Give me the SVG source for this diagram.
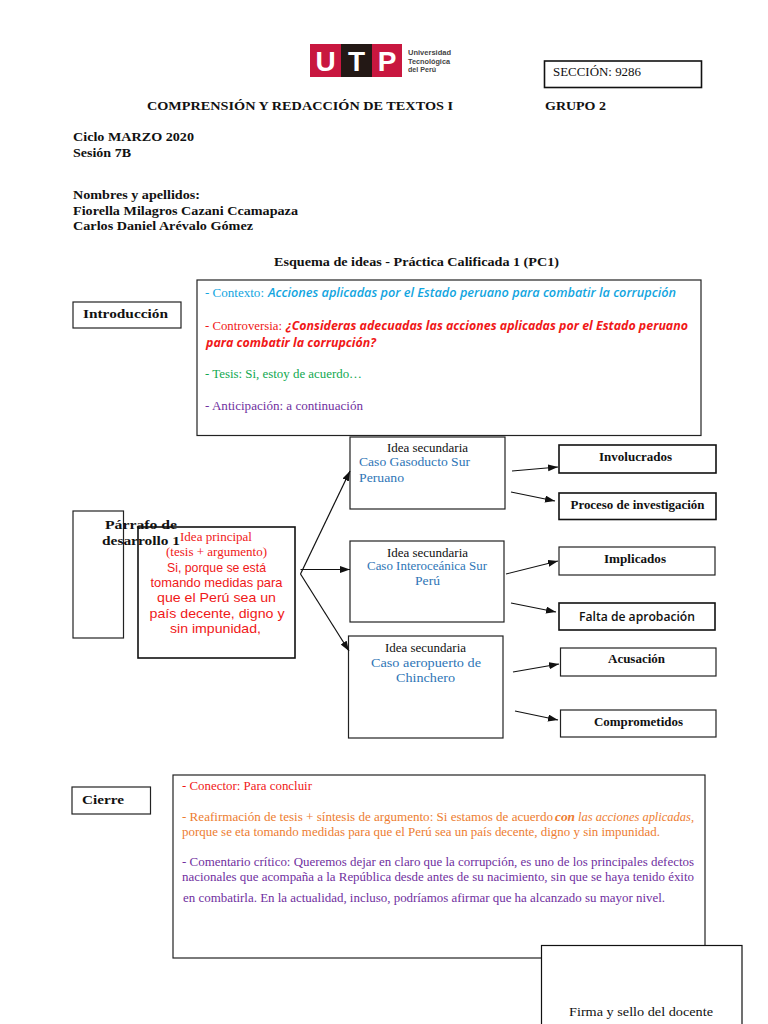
<svg xmlns="http://www.w3.org/2000/svg" width="768" height="1024" viewBox="0 0 768 1024">
<style>
text{font-family:"Liberation Serif","Times New Roman",serif;font-size:12px;fill:#111;white-space:pre}
.s{font-family:"Liberation Sans",Arial,sans-serif}
.c{font-family:"Open Sans","Noto Sans",sans-serif}
.b{font-weight:bold}
.box{fill:#fff;stroke:#222;stroke-width:1.2}
.thick{fill:#fff;stroke:#111;stroke-width:1.6}
.cn{fill:none;stroke:#111;stroke-width:1.2;marker-end:url(#a)}
.blue{fill:#2e75b6}.red{fill:#f01818}.cyan{fill:#12a5e0}.green{fill:#10a850}.pur{fill:#7030a0}.or{fill:#ed7d31}
</style>
<defs><marker id="a" markerUnits="userSpaceOnUse" markerWidth="11" markerHeight="8" refX="10" refY="3.500" orient="auto"><path d="M0 0L10 3.500L0 7Z" fill="#111"/></marker></defs>
<rect width="768" height="1024" fill="#fff"/>
<g id="logo">
<rect x="310" y="44" width="31" height="33" fill="#c8173f"/><rect x="341" y="44" width="31" height="33" fill="#231815"/><rect x="372" y="44" width="30" height="33" fill="#c8173f"/>
<text class="s b" x="325.500" y="71" text-anchor="middle" style="font-size:28px;fill:#fff">U</text>
<text class="s b" x="356.500" y="71" text-anchor="middle" style="font-size:28px;fill:#fff">T</text>
<text class="s b" x="387" y="71" text-anchor="middle" style="font-size:28px;fill:#fff">P</text>
<text class="s" x="408" y="55" style="font-size:7.500px;font-weight:bold;fill:#444" textLength="43" lengthAdjust="spacingAndGlyphs">Universidad</text>
<text class="s" x="408" y="63.500" style="font-size:7.500px;font-weight:bold;fill:#444" textLength="42" lengthAdjust="spacingAndGlyphs">Tecnológica</text>
<text class="s" x="408" y="72" style="font-size:7.500px;font-weight:bold;fill:#444" textLength="28" lengthAdjust="spacingAndGlyphs">del Perú</text>
</g>
<g id="seccion"><rect class="thick" x="544.500" y="61" width="157" height="26.500"/><text x="553" y="76" textLength="88" lengthAdjust="spacingAndGlyphs">SECCIÓN: 9286</text></g>
<g id="cabecera">
<text class="b" x="147" y="110" style="font-size:13px" textLength="306" lengthAdjust="spacingAndGlyphs">COMPRENSIÓN Y REDACCIÓN DE TEXTOS I</text>
<text class="b" x="545" y="110" style="font-size:13px" textLength="61" lengthAdjust="spacingAndGlyphs">GRUPO 2</text>
<text class="b" x="73" y="141" style="font-size:13px" textLength="121" lengthAdjust="spacingAndGlyphs">Ciclo MARZO 2020</text>
<text class="b" x="73" y="157" style="font-size:13px" textLength="58" lengthAdjust="spacingAndGlyphs">Sesión 7B</text>
<text class="b" x="73" y="199" style="font-size:13px" textLength="127" lengthAdjust="spacingAndGlyphs">Nombres y apellidos:</text>
<text class="b" x="73" y="215" style="font-size:13px" textLength="225" lengthAdjust="spacingAndGlyphs">Fiorella Milagros Cazani Ccamapaza</text>
<text class="b" x="73" y="230" style="font-size:13px" textLength="180" lengthAdjust="spacingAndGlyphs">Carlos Daniel Arévalo Gómez</text>
<text class="b" x="274" y="266" style="font-size:13px" textLength="285" lengthAdjust="spacingAndGlyphs">Esquema de ideas - Práctica Calificada 1 (PC1)</text>
</g>
<g id="introduccion"><rect class="box" x="73" y="302" width="108" height="26"/><text class="b" x="83" y="318" style="font-size:13px" textLength="85" lengthAdjust="spacingAndGlyphs">Introducción</text></g>
<g id="intro-texto">
<rect class="box" x="197" y="280" width="504" height="155.500"/>
<text class="cyan" x="205" y="297" textLength="59" lengthAdjust="spacingAndGlyphs">- Contexto:</text>
<text class="c b cyan" x="268" y="297" style="font-size:12.500px;font-style:italic;font-weight:600" textLength="408" lengthAdjust="spacingAndGlyphs">Acciones aplicadas por el Estado peruano para combatir la corrupción</text>
<text class="red" x="205" y="330" textLength="77" lengthAdjust="spacingAndGlyphs">- Controversia:</text>
<text class="c b red" x="286" y="330" style="font-size:12.500px;font-style:italic" textLength="402" lengthAdjust="spacingAndGlyphs">¿Consideras adecuadas las acciones aplicadas por el Estado peruano</text>
<text class="c b red" x="206" y="347" style="font-size:12.500px;font-style:italic" textLength="170" lengthAdjust="spacingAndGlyphs">para combatir la corrupción?</text>
<text class="green" x="205" y="378" textLength="157" lengthAdjust="spacingAndGlyphs">- Tesis: Si, estoy de acuerdo…</text>
<text class="pur" x="205" y="410" textLength="158" lengthAdjust="spacingAndGlyphs">- Anticipación: a continuación</text>
</g>
<g id="parrafo"><rect class="box" x="73" y="511" width="50.500" height="127"/></g>
<g id="idea-principal">
<rect class="thick" x="138" y="527" width="157" height="131"/>
<text class="red" x="180" y="541" textLength="72" lengthAdjust="spacingAndGlyphs">Idea principal</text>
<text class="red" x="166" y="556" textLength="101" lengthAdjust="spacingAndGlyphs">(tesis + argumento)</text>
<text class="s red" x="216.500" y="572" text-anchor="middle" style="font-size:13.500px" textLength="99" lengthAdjust="spacingAndGlyphs">Si, porque se está</text>
<text class="s red" x="216.500" y="587" text-anchor="middle" style="font-size:13.500px" textLength="132" lengthAdjust="spacingAndGlyphs">tomando medidas para</text>
<text class="s red" x="216.500" y="602" text-anchor="middle" style="font-size:13.500px" textLength="119" lengthAdjust="spacingAndGlyphs">que el Perú sea un</text>
<text class="s red" x="217" y="618" text-anchor="middle" style="font-size:13.500px" textLength="135" lengthAdjust="spacingAndGlyphs">país decente, digno y</text>
<text class="s red" x="215.500" y="633" text-anchor="middle" style="font-size:13.500px" textLength="91" lengthAdjust="spacingAndGlyphs">sin impunidad,</text>
</g>
<g id="parrafo-titulo">
<text class="b" x="105" y="529" style="font-size:13.500px" textLength="72" lengthAdjust="spacingAndGlyphs">Párrafo de</text>
<text class="b" x="102" y="545" style="font-size:13.500px" textLength="78" lengthAdjust="spacingAndGlyphs">desarrollo 1</text>
</g>
<g id="sec1"><rect class="box" x="350" y="437" width="155" height="72"/>
<text x="387" y="452" textLength="81" lengthAdjust="spacingAndGlyphs">Idea secundaria</text>
<text class="blue" x="359" y="466" textLength="111" lengthAdjust="spacingAndGlyphs">Caso Gasoducto Sur</text>
<text class="blue" x="359" y="482" textLength="45" lengthAdjust="spacingAndGlyphs">Peruano</text></g>
<g id="sec2"><rect class="box" x="350" y="541" width="154" height="81"/>
<text x="387" y="557" textLength="81" lengthAdjust="spacingAndGlyphs">Idea secundaria</text>
<text class="blue" x="367" y="570" textLength="120" lengthAdjust="spacingAndGlyphs">Caso Interoceánica Sur</text>
<text class="blue" x="415" y="585" textLength="25" lengthAdjust="spacingAndGlyphs">Perú</text></g>
<g id="sec3"><rect class="box" x="348.500" y="636" width="154.500" height="102"/>
<text x="385" y="652" textLength="81" lengthAdjust="spacingAndGlyphs">Idea secundaria</text>
<text class="blue" x="371" y="667" textLength="110" lengthAdjust="spacingAndGlyphs">Caso aeropuerto de</text>
<text class="blue" x="396" y="682" textLength="59" lengthAdjust="spacingAndGlyphs">Chinchero</text></g>
<g id="n-involucrados"><rect class="thick" x="559" y="445" width="157" height="28"/><text class="b" x="599" y="461" textLength="73" lengthAdjust="spacingAndGlyphs">Involucrados</text></g>
<g id="n-proceso"><rect class="thick" x="559" y="493" width="157" height="26.500"/><text class="b" x="570.500" y="509" textLength="134" lengthAdjust="spacingAndGlyphs">Proceso de investigación</text></g>
<g id="n-implicados"><rect class="box" x="559" y="547" width="156" height="28"/><text class="b" x="604" y="563" textLength="62" lengthAdjust="spacingAndGlyphs">Implicados</text></g>
<g id="n-falta"><rect class="thick" x="559" y="603" width="156" height="27"/><text class="c" x="579" y="621" style="font-weight:600" textLength="116" lengthAdjust="spacingAndGlyphs">Falta de aprobación</text></g>
<g id="n-acusacion"><rect class="box" x="560.500" y="648" width="155.500" height="28"/><text class="b" x="608" y="663" textLength="57" lengthAdjust="spacingAndGlyphs">Acusación</text></g>
<g id="n-comprometidos"><rect class="box" x="560.500" y="710" width="155.500" height="27"/><text class="b" x="594" y="726" textLength="89" lengthAdjust="spacingAndGlyphs">Comprometidos</text></g>
<g id="conectores">
<path class="cn" d="M300.500 574L350 471"/><path class="cn" d="M300.500 569.500H350"/><path class="cn" d="M300.500 574L349 651"/>
<path class="cn" d="M512 471L558 467"/><path class="cn" d="M511 492L555 501"/>
<path class="cn" d="M506 574L558 561"/><path class="cn" d="M511 603L556 612"/>
<path class="cn" d="M513 672L559 664"/><path class="cn" d="M515 711L558 720"/>
</g>
<g id="cierre"><rect class="box" x="72" y="787" width="78.500" height="27"/><text class="b" x="82" y="804" style="font-size:13px" textLength="42" lengthAdjust="spacingAndGlyphs">Cierre</text></g>
<g id="cierre-texto">
<rect class="box" x="173" y="775" width="532" height="183"/>
<text class="red" x="182" y="790" textLength="130" lengthAdjust="spacingAndGlyphs">- Conector: Para concluir</text>
<text class="or" x="182" y="821" textLength="371" lengthAdjust="spacingAndGlyphs">- Reafirmación de tesis + síntesis de argumento: Si estamos de acuerdo</text>
<text class="or b" x="555" y="821" style="font-style:italic" textLength="20" lengthAdjust="spacingAndGlyphs">con</text>
<text class="or" x="578" y="821" style="font-style:italic" textLength="116" lengthAdjust="spacingAndGlyphs">las acciones aplicadas,</text>
<text class="or" x="182" y="836" textLength="478" lengthAdjust="spacingAndGlyphs">porque se eta tomando medidas para que el Perú sea un país decente, digno y sin impunidad.</text>
<text class="pur" x="182" y="866" textLength="512" lengthAdjust="spacingAndGlyphs">- Comentario crítico: Queremos dejar en claro que la corrupción, es uno de los principales defectos</text>
<text class="pur" x="182" y="881" textLength="512" lengthAdjust="spacingAndGlyphs">nacionales que acompaña a la República desde antes de su nacimiento, sin que se haya tenido éxito</text>
<text class="pur" x="183" y="902" textLength="482" lengthAdjust="spacingAndGlyphs">en combatirla. En la actualidad, incluso, podríamos afirmar que ha alcanzado su mayor nivel.</text>
</g>
<g id="firma"><rect fill="#fff" stroke="#111" stroke-width="1.200" x="541.500" y="945.500" width="200.500" height="90"/><text x="569" y="1016" textLength="144" lengthAdjust="spacingAndGlyphs">Firma y sello del docente</text></g>
</svg>
